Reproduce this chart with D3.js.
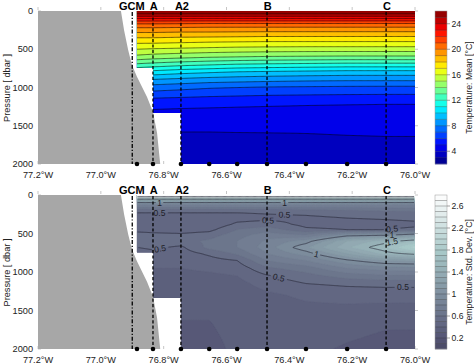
<!DOCTYPE html>
<html><head><meta charset="utf-8">
<script src="https://cdn.jsdelivr.net/npm/d3@7/dist/d3.min.js"></script>
<style>
body{margin:0;background:#fff;}
svg text{font-family:"Liberation Sans",Arial,Helvetica,sans-serif;}
</style></head><body>
<svg id="chart" width="474" height="364"></svg>
<script>
// ---------------- data ----------------
const lonTicks = [77.2, 77.0, 76.8, 76.6, 76.4, 76.2, 76.0];
const pressureTicks = [0, 500, 1000, 1500, 2000];
const meanTicks = [4, 8, 12, 16, 20, 24];
const stdTicks = [0.2, 0.6, 1, 1.4, 1.8, 2.2, 2.6];
const meanLevels = [2, 26];     // colour-bar range, 1 °C bands
const stdLevels = [0, 2.8];     // colour-bar range, 0.1 °C bands
const stdLineLevels = [0.5, 1, 1.5, 2, 2.5];

const stationLon = [76.885, 76.834, 76.745, 76.655, 76.566, 76.471, 76.347, 76.216, 76.092];
const stationMaxP = [745, 1333, 2000, 2000, 2000, 2000, 2000, 2000, 2000];
const sectionNames = ["GCM", "A", "A2", "B", "C"];
const sectionLon = [76.900, 76.834, 76.745, 76.471, 76.092];

const bathyLon = [77.2, 76.936, 76.926, 76.913, 76.901, 76.885, 76.853, 76.834, 76.821, 76.811];
const bathyP   = [0, 0, 250, 510, 705, 860, 1125, 1320, 1595, 2000];

const profileLon = [76.885, 76.834, 76.745, 76.655, 76.566, 76.471, 76.347, 76.216, 76.092, 76.0];

const meanP = [0, 25, 50, 100, 150, 200, 300, 400, 500, 600, 700, 800, 900, 1000, 1200, 1400, 1600, 1800, 2000];
const tempMean = [
  [25.9, 25.4, 24.6, 23.0, 21.4, 20.3, 18.7, 17.3, 16.0, 14.7, 12.8, 10.8, 9.0, 7.6, 5.35, 4.6, 3.95, 3.7, 3.55],
  [25.9, 25.4, 24.6, 23.0, 21.4, 20.3, 18.7, 17.3, 15.9, 14.5, 12.6, 10.6, 8.9, 7.5, 5.35, 4.55, 3.95, 3.7, 3.55],
  [25.9, 25.4, 24.6, 23.0, 21.35, 20.25, 18.6, 17.2, 15.8, 14.3, 12.3, 10.3, 8.7, 7.3, 5.3, 4.5, 3.95, 3.7, 3.55],
  [25.9, 25.4, 24.6, 23.0, 21.3, 20.2, 18.6, 17.1, 15.7, 14.1, 12.1, 10.1, 8.5, 7.1, 5.25, 4.5, 3.95, 3.72, 3.56],
  [25.9, 25.4, 24.6, 23.0, 21.3, 20.2, 18.55, 17.05, 15.6, 14.0, 11.9, 9.9, 8.4, 7.0, 5.2, 4.5, 3.97, 3.74, 3.57],
  [25.9, 25.4, 24.6, 23.0, 21.3, 20.2, 18.5, 17.0, 15.55, 13.9, 11.8, 9.8, 8.3, 6.9, 5.15, 4.52, 3.98, 3.76, 3.58],
  [25.9, 25.4, 24.6, 23.0, 21.3, 20.2, 18.5, 17.0, 15.5, 13.85, 11.7, 9.7, 8.2, 6.85, 5.1, 4.54, 4.0, 3.78, 3.59],
  [25.9, 25.4, 24.6, 23.0, 21.3, 20.2, 18.5, 17.0, 15.5, 13.8, 11.6, 9.6, 8.15, 6.8, 5.07, 4.55, 4.03, 3.79, 3.6],
  [25.9, 25.4, 24.6, 23.0, 21.3, 20.2, 18.5, 17.0, 15.5, 13.8, 11.6, 9.6, 8.15, 6.78, 5.05, 4.56, 4.05, 3.8, 3.6],
  [25.9, 25.4, 24.6, 23.0, 21.3, 20.2, 18.5, 17.0, 15.5, 13.8, 11.6, 9.6, 8.15, 6.78, 5.05, 4.56, 4.05, 3.8, 3.6]
];

const stdP = [0, 20, 40, 60, 90, 130, 180, 230, 300, 380, 450, 520, 600, 680, 760, 850, 950, 1050, 1150, 1300, 1500, 1750, 2000];
const tempStd = [
  [2.9, 2.5, 2.0, 1.5, 1.05, 0.8, 0.6, 0.5, 0.44, 0.42, 0.47, 0.54, 0.57, 0.5, 0.45, 0.4, 0.38, 0.36, 0.34, 0.32, 0.3, 0.28, 0.26],
  [2.9, 2.5, 2.0, 1.5, 1.05, 0.8, 0.6, 0.5, 0.44, 0.42, 0.46, 0.53, 0.58, 0.52, 0.47, 0.42, 0.4, 0.37, 0.35, 0.33, 0.31, 0.28, 0.26],
  [2.9, 2.5, 2.0, 1.5, 1.05, 0.8, 0.6, 0.5, 0.44, 0.42, 0.45, 0.52, 0.56, 0.48, 0.45, 0.42, 0.4, 0.37, 0.35, 0.33, 0.31, 0.29, 0.27],
  [2.9, 2.5, 2.0, 1.5, 1.05, 0.8, 0.6, 0.5, 0.44, 0.42, 0.47, 0.55, 0.62, 0.63, 0.52, 0.46, 0.42, 0.38, 0.36, 0.33, 0.31, 0.29, 0.27],
  [2.9, 2.5, 2.0, 1.5, 1.05, 0.8, 0.6, 0.5, 0.46, 0.52, 0.6, 0.66, 0.7, 0.7, 0.62, 0.5, 0.44, 0.4, 0.37, 0.34, 0.33, 0.33, 0.32],
  [2.9, 2.5, 2.0, 1.5, 1.05, 0.8, 0.6, 0.51, 0.47, 0.55, 0.65, 0.75, 0.82, 0.85, 0.8, 0.7, 0.58, 0.49, 0.44, 0.38, 0.35, 0.35, 0.34],
  [2.9, 2.5, 2.0, 1.5, 1.05, 0.8, 0.62, 0.52, 0.48, 0.47, 0.52, 0.7, 0.95, 1.08, 0.95, 0.8, 0.65, 0.56, 0.5, 0.42, 0.37, 0.34, 0.32],
  [2.9, 2.5, 2.0, 1.5, 1.05, 0.8, 0.63, 0.54, 0.5, 0.46, 0.5, 0.95, 1.3, 1.38, 1.2, 0.98, 0.8, 0.64, 0.52, 0.44, 0.37, 0.32, 0.29],
  [2.9, 2.5, 2.0, 1.5, 1.05, 0.8, 0.65, 0.56, 0.51, 0.47, 0.5, 0.98, 1.45, 1.6, 1.45, 1.1, 0.85, 0.68, 0.53, 0.44, 0.36, 0.3, 0.27],
  [2.9, 2.5, 2.0, 1.5, 1.05, 0.8, 0.66, 0.57, 0.52, 0.48, 0.52, 1.1, 1.6, 1.85, 1.55, 1.12, 0.86, 0.68, 0.53, 0.44, 0.36, 0.3, 0.27]
];

// ---------------- helpers ----------------
const svg = d3.select("#chart");
const defs = svg.append("defs");
const x = d3.scaleLinear().domain([77.2, 76.0]).range([38, 415]);
const clamp01 = v => Math.max(0, Math.min(1, v));
function jet(t) {
  return d3.rgb(255 * clamp01(1.5 - Math.abs(4 * t - 3)), 255 * clamp01(1.5 - Math.abs(4 * t - 2)), 255 * clamp01(1.5 - Math.abs(4 * t - 1))).toString();
}
function bone(t) {
  const hr = clamp01(t / 0.375), hg = clamp01((t - 0.375) / 0.375), hb = clamp01((t - 0.75) / 0.25);
  return d3.rgb(255 * (7 * t + hb) / 8, 255 * (7 * t + hg) / 8, 255 * (7 * t + hr) / 8).toString();
}
const meanColor = v => jet((v - meanLevels[0]) / (meanLevels[1] - meanLevels[0]));
const stdColor = v => bone(0.33 + 0.67 * (v - stdLevels[0]) / (stdLevels[1] - stdLevels[0]));

function bracket(arr, v) {
  const n = arr.length, asc = arr[n - 1] > arr[0];
  const a = asc ? arr : arr.map(d => -d), k = asc ? v : -v;
  if (k <= a[0]) return [0, 0];
  if (k >= a[n - 1]) return [n - 2, 1];
  let i = 0; while (a[i + 1] < k) i++;
  return [i, (k - a[i]) / (a[i + 1] - a[i])];
}
function field(lons, ps, M, lon, p) {
  const [i, t] = bracket(lons, lon), [j, u] = bracket(ps, p);
  const a = M[i][j] * (1 - u) + M[i][j + 1] * u;
  const b = M[i + 1][j] * (1 - u) + M[i + 1][j + 1] * u;
  return a * (1 - t) + b * t;
}
const NX = 260, NY = 260, LON_A = 76.92, LON_B = 75.97, P_A = -40, P_B = 2040;
const dLon = (LON_B - LON_A) / (NX - 1), dP = (P_B - P_A) / (NY - 1);
function grid(ps, M) {
  const v = new Float64Array(NX * NY);
  for (let j = 0; j < NY; j++) for (let i = 0; i < NX; i++)
    v[j * NX + i] = field(profileLon, ps, M, LON_A + i * dLon, P_A + j * dP);
  return v;
}

// data-mask polygon in data coords
const maskData = [[stationLon[0], 0], [76.0, 0]];
for (let i = stationLon.length - 1; i >= 0; i--) {
  const east = i === stationLon.length - 1 ? 76.0 : stationLon[i + 1];
  maskData.push([east, stationMaxP[i]], [stationLon[i], stationMaxP[i]]);
}

function drawPanel(cfg) {
  const y = d3.scaleLinear().domain([0, 2000]).range([cfg.top, cfg.bottom]);
  const g = svg.append("g");
  const toPx = (cx, cy) => [x(LON_A + (cx - 0.5) * dLon), y(P_A + (cy - 0.5) * dP)];
  const path = d3.geoPath(d3.geoTransform({ point(cx, cy) { const p = toPx(cx, cy); this.stream.point(p[0], p[1]); } }));
  const maskPx = maskData.map(([lo, p]) => [x(lo), y(p)]);
  const clipId = "clip" + cfg.id;
  defs.append("clipPath").attr("id", clipId).append("path").attr("d", "M" + maskPx.join("L") + "Z");

  // ticks (light, MATLAB-like)
  const tk = g.append("g").attr("stroke", "#b8b8b8").attr("stroke-width", 0.8);
  lonTicks.forEach(t => {
    tk.append("line").attr("x1", x(t)).attr("x2", x(t)).attr("y1", cfg.bottom).attr("y2", cfg.bottom - 3);
    tk.append("line").attr("x1", x(t)).attr("x2", x(t)).attr("y1", cfg.top - 4).attr("y2", cfg.top - 1);
  });
  pressureTicks.forEach(t => {
    tk.append("line").attr("x1", 415).attr("x2", 418).attr("y1", y(t)).attr("y2", y(t));
    tk.append("line").attr("x1", 38).attr("x2", 41).attr("y1", y(t)).attr("y2", y(t));
  });

  // filled contours
  const vals = grid(cfg.ps, cfg.M);
  const cs = d3.contours().size([NX, NY]).thresholds(cfg.thresholds)(vals);
  const fg = g.append("g").attr("clip-path", `url(#${clipId})`);
  fg.selectAll("path.f").data(cs).join("path")
    .attr("d", path).attr("fill", d => cfg.color(d.value + cfg.step / 2))
    .attr("stroke", d => cfg.color(d.value + cfg.step / 2)).attr("stroke-width", 0.3);

  if (cfg.allLines) {
    fg.selectAll("path.l").data(cs.filter(d => d.value > cfg.thresholds[0])).join("path")
      .attr("d", path).attr("fill", "none").attr("stroke", "#000").attr("stroke-width", 0.55);
  }
  if (cfg.labelLevels) {
    const lc = d3.contours().size([NX, NY]).thresholds(cfg.labelLevels)(vals);
    const inside = (pt, m) => [[m, 0], [-m, 0], [0, m], [0, -m]].every(([dx, dy]) => d3.polygonContains(maskPx, [pt[0] + dx, pt[1] + dy]));
    const lineG = fg.append("g").attr("fill", "none").attr("stroke", "#262636").attr("stroke-width", 0.6);
    const labG = g.append("g");
    lc.forEach(c => {
      const txt = d3.format("~g")(c.value);
      const w = txt.length * 4.6 + 3;
      c.coordinates.forEach(poly => poly.forEach(ring => {
        const pts = ring.slice(0, -1).map(([a, b]) => toPx(a, b));
        const n = pts.length; if (n < 2) return;
        const vis = pts.map(p => inside(p, 1.5));
        let runs = [];
        if (vis.every(v => v)) runs.push(pts.concat([pts[0]]));
        else if (vis.some(v => v)) {
          const k = vis.indexOf(false); let cur = null;
          for (let s = 1; s <= n; s++) {
            const idx = (k + s) % n, prev = (k + s - 1) % n;
            if (vis[idx]) { if (!cur) cur = [pts[prev]]; cur.push(pts[idx]); }
            else if (cur) { cur.push(pts[idx]); runs.push(cur); cur = null; }
          }
          if (cur) runs.push(cur);
        }
        runs.forEach(run => {
          const cum = [0];
          for (let i = 1; i < run.length; i++) cum.push(cum[i - 1] + Math.hypot(run[i][0] - run[i - 1][0], run[i][1] - run[i - 1][1]));
          const total = cum[cum.length - 1];
          const at = s => {
            s = Math.max(0, Math.min(total, s));
            let i = 1; while (i < run.length - 1 && cum[i] < s) i++;
            const f = (s - cum[i - 1]) / ((cum[i] - cum[i - 1]) || 1);
            return [run[i - 1][0] + f * (run[i][0] - run[i - 1][0]), run[i - 1][1] + f * (run[i][1] - run[i - 1][1])];
          };
          const gaps = [];
          if (total > 30) {
            for (let s = 22; s < total - 10; s += 125) {
              const p = at(s);
              if (!inside(p, 5)) continue;
              const p1 = at(s - 6), p2 = at(s + 6);
              let ang = Math.atan2(p2[1] - p1[1], p2[0] - p1[0]) * 180 / Math.PI;
              if (ang > 90) ang -= 180; if (ang < -90) ang += 180;
              labG.append("text").attr("transform", `translate(${p[0]},${p[1]}) rotate(${ang})`)
                .attr("text-anchor", "middle").attr("dy", "0.35em").attr("font-size", 8.5).attr("fill", "#1e1e28").text(txt);
              gaps.push([s - w / 2, s + w / 2]);
            }
          }
          let start = 0;
          const segs = [];
          gaps.forEach(([a, b]) => { if (a > start) segs.push([start, a]); start = b; });
          if (start < total) segs.push([start, total]);
          segs.forEach(([a, b]) => {
            const out = [at(a)];
            for (let i = 0; i < run.length; i++) if (cum[i] > a && cum[i] < b) out.push(run[i]);
            out.push(at(b));
            lineG.append("path").attr("d", "M" + out.join("L"));
          });
        });
      }));
    });
  }

  // bathymetry
  const bathy = bathyLon.map((lo, i) => [x(lo), y(bathyP[i])]);
  bathy.push([x(bathyLon[bathyLon.length - 1]), y(2000)], [x(77.2), y(2000)]);
  g.append("path").attr("d", "M" + bathy.join("L") + "Z").attr("fill", "#a7a7a7");

  // section lines
  sectionNames.forEach((nm, i) => {
    g.append("line").attr("x1", x(sectionLon[i])).attr("x2", x(sectionLon[i]))
      .attr("y1", cfg.top + 1).attr("y2", cfg.bottom)
      .attr("stroke", "#000").attr("stroke-width", 1.3)
      .attr("stroke-dasharray", nm === "GCM" ? "4,1.8,1.2,1.8" : "3.2,2.2");
    g.append("text").attr("x", x(sectionLon[i]) + (nm === "A2" ? 1 : nm === "GCM" ? -0.5 : 0.8)).attr("y", cfg.top - 1)
      .attr("text-anchor", "middle").attr("font-size", 11).attr("font-weight", "bold").attr("fill", "#000").text(nm);
  });
  // station dots
  stationLon.forEach(lo => g.append("circle").attr("cx", x(lo)).attr("cy", cfg.bottom).attr("r", 2.3).attr("fill", "#000"));

  // axes labels
  lonTicks.forEach(t => g.append("text").attr("x", x(t)).attr("y", cfg.bottom + 13.5).attr("text-anchor", "middle")
    .attr("font-size", 9.2).attr("fill", "#222").text(d3.format(".1f")(t) + "°W"));
  pressureTicks.forEach(t => g.append("text").attr("x", 33).attr("y", y(t)).attr("dy", "0.35em").attr("text-anchor", "end")
    .attr("font-size", 9.2).attr("fill", "#222").text(t));
  g.append("text").attr("transform", `translate(9.5,${(cfg.top + cfg.bottom) / 2 + 0.5}) rotate(-90)`).attr("text-anchor", "middle")
    .attr("font-size", 9.2).attr("fill", "#222").text("Pressure [ dbar ]");

  // colour bar
  const cb = d3.scaleLinear().domain(cfg.range).range([cfg.bottom, cfg.top]);
  const cg = svg.append("g");
  const nb = Math.round((cfg.range[1] - cfg.range[0]) / cfg.step);
  const bands = d3.range(nb).map(i => cfg.range[0] + i * cfg.step);
  cg.selectAll("rect").data(bands).join("rect")
    .attr("x", 435).attr("width", 12).attr("y", d => cb(d + cfg.step)).attr("height", d => cb(d) - cb(d + cfg.step) + 0.3)
    .attr("fill", d => cfg.color(d + cfg.step / 2));
  cg.selectAll("line.b").data(bands.slice(1)).join("line")
    .attr("x1", 435).attr("x2", 447).attr("y1", d => cb(d)).attr("y2", d => cb(d))
    .attr("stroke", "#2a2a2a").attr("stroke-width", 0.45).attr("stroke-opacity", 0.75);
  cg.append("rect").attr("x", 435).attr("y", cfg.top).attr("width", 12).attr("height", cfg.bottom - cfg.top)
    .attr("fill", "none").attr("stroke", "#9a9a9a").attr("stroke-width", 0.5);
  cfg.ticks.forEach(t => {
    cg.append("line").attr("x1", 447).attr("x2", 450).attr("y1", cb(t)).attr("y2", cb(t)).attr("stroke", "#666").attr("stroke-width", 0.6);
    cg.append("text").attr("x", 451.5).attr("y", cb(t)).attr("dy", "0.35em").attr("font-size", 8.6).attr("fill", "#222").text(d3.format("~g")(t));
  });
  cg.append("text").attr("transform", `translate(472,${(cfg.top + cfg.bottom) / 2}) rotate(-90)`).attr("text-anchor", "middle")
    .attr("font-size", 8.7).attr("fill", "#222").text(cfg.title);
}

drawPanel({
  id: 1, top: 11, bottom: 164, ps: meanP, M: tempMean,
  thresholds: d3.range(meanLevels[0], meanLevels[1]), step: 1, color: meanColor, allLines: true,
  range: meanLevels, ticks: meanTicks, title: "Temperature: Mean [°C]"
});
drawPanel({
  id: 2, top: 195, bottom: 349, ps: stdP, M: tempStd,
  thresholds: d3.range(28).map(i => i / 10), step: 0.1, color: stdColor, labelLevels: stdLineLevels,
  range: stdLevels, ticks: stdTicks, title: "Temperature: Std. Dev. [°C]"
});
</script>
</body></html>
